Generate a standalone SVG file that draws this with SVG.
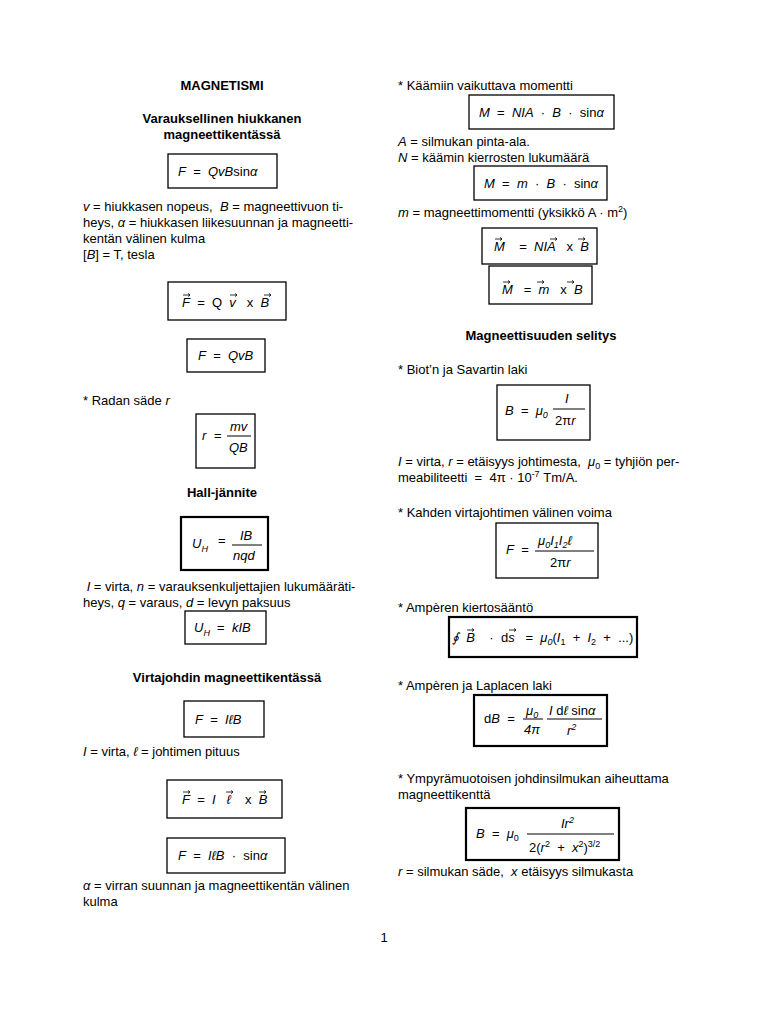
<svg xmlns="http://www.w3.org/2000/svg" width="768" height="1024" viewBox="0 0 768 1024">
<style>
text{font-family:"Liberation Sans",Arial,sans-serif;font-size:13px;fill:#000;white-space:pre}
.b{font-weight:bold}
.i{font-style:italic}
.s{font-size:9px}
.box{fill:#fff;stroke:#000;stroke-width:1.3}
.tb{fill:#fff;stroke:#000;stroke-width:2.2}
.ln{stroke:#000;stroke-width:1}
.v{fill:none;stroke:#000;stroke-width:0.8}
</style>
<defs>
<path id="vec" class="v" d="M0,0 H7 M5,-1.6 L7,0 L5,1.6"/>
</defs>
<rect width="768" height="1024" fill="#fff"/>
<!-- left column -->
<text x="222" y="90" class="b" text-anchor="middle">MAGNETISMI</text>
<text x="222" y="123" class="b" text-anchor="middle">Varauksellinen hiukkanen</text>
<text x="222" y="139" class="b" text-anchor="middle">magneettikentässä</text>
<rect class="box" x="168" y="154" width="109" height="34"/>
<text x="178" y="176"><tspan class="i">F</tspan>  =  <tspan class="i">QvB</tspan>sin<tspan class="i">α</tspan></text>
<text x="83" y="211"><tspan class="i">v</tspan> = hiukkasen nopeus,  <tspan class="i">B</tspan> = magneettivuon ti-</text>
<text x="83" y="227">heys, <tspan class="i">α</tspan> = hiukkasen liikesuunnan ja magneetti-</text>
<text x="83" y="243">kentän välinen kulma</text>
<text x="83" y="259">[<tspan class="i">B</tspan>] = T, tesla</text>
<rect class="box" x="168" y="282" width="118" height="38"/>
<text x="182" y="307"><tspan class="i">F</tspan>  =  Q  <tspan class="i">v</tspan>   x  <tspan class="i">B</tspan></text>
<use href="#vec" x="183" y="295"/><use href="#vec" x="230" y="295"/><use href="#vec" x="264" y="295"/>
<rect class="box" x="187" y="339" width="78" height="33"/>
<text x="198" y="360"><tspan class="i">F</tspan>  =  <tspan class="i">QvB</tspan></text>
<text x="83" y="405">* Radan säde <tspan class="i">r</tspan></text>
<rect class="box" x="196" y="414" width="59" height="54"/>
<text x="202" y="440" class="i">r</text><text x="214" y="440">=</text>
<text x="230" y="431" class="i">mv</text>
<line class="ln" x1="227" y1="436" x2="251" y2="436"/>
<text x="229" y="452" class="i">QB</text>
<text x="222" y="497" class="b" text-anchor="middle">Hall-jännite</text>
<rect class="tb" x="181" y="517" width="87" height="53"/>
<text x="192" y="548" class="i">U<tspan class="s" dy="4">H</tspan></text>
<text x="218" y="545">=</text>
<text x="240" y="540" class="i">IB</text>
<line class="ln" x1="232" y1="545" x2="262" y2="545"/>
<text x="233" y="560" class="i">nqd</text>
<text x="83" y="591"> <tspan class="i">I</tspan> = virta, <tspan class="i">n</tspan> = varauksenkuljettajien lukumääräti-</text>
<text x="83" y="607">heys, <tspan class="i">q</tspan> = varaus, <tspan class="i">d</tspan> = levyn paksuus</text>
<rect class="box" x="185" y="611" width="81" height="33"/>
<text x="194" y="632" class="i">U<tspan class="s" dy="4">H</tspan><tspan dy="-4" font-style="normal">  =  </tspan>kIB</text>
<text x="227" y="682" class="b" text-anchor="middle">Virtajohdin magneettikentässä</text>
<rect class="box" x="184" y="701" width="80" height="36"/>
<text x="195" y="724"><tspan class="i">F</tspan>  =  <tspan class="i">IℓB</tspan></text>
<text x="83" y="756"><tspan class="i">I</tspan> = virta, <tspan class="i">ℓ</tspan> = johtimen pituus</text>
<rect class="box" x="167" y="780" width="115" height="38"/>
<text x="182" y="804"><tspan class="i">F</tspan>  =  <tspan class="i">I</tspan>   <tspan class="i">ℓ</tspan>    x  <tspan class="i">B</tspan></text>
<use href="#vec" x="183" y="792"/><use href="#vec" x="226" y="792"/><use href="#vec" x="259" y="792"/>
<rect class="box" x="167" y="838" width="118" height="35"/>
<text x="178" y="860"><tspan class="i">F</tspan>  =  <tspan class="i">IℓB</tspan>  ·  sin<tspan class="i">α</tspan></text>
<text x="83" y="890"><tspan class="i">α</tspan> = virran suunnan ja magneettikentän välinen</text>
<text x="83" y="906">kulma</text>
<text x="384" y="942" text-anchor="middle">1</text>
<!-- right column -->
<text x="398" y="90">* Käämiin vaikuttava momentti</text>
<rect class="box" x="469" y="95" width="145" height="34"/>
<text x="479" y="117"><tspan class="i">M</tspan>  =  <tspan class="i">NIA</tspan>  ·  <tspan class="i">B</tspan>  ·  sin<tspan class="i">α</tspan></text>
<text x="398" y="146"><tspan class="i">A</tspan> = silmukan pinta-ala.</text>
<text x="398" y="162"><tspan class="i">N</tspan> = käämin kierrosten lukumäärä</text>
<rect class="box" x="474" y="166" width="133" height="34"/>
<text x="484" y="188"><tspan class="i">M</tspan>  =  <tspan class="i">m</tspan>  ·  <tspan class="i">B</tspan>  ·  sin<tspan class="i">α</tspan></text>
<text x="398" y="217"><tspan class="i">m</tspan> = magneettimomentti (yksikkö A · m<tspan class="s" dy="-5">2</tspan><tspan dy="5">)</tspan></text>
<rect class="box" x="482" y="228" width="115" height="36"/>
<text x="494" y="251" font-size="12"><tspan class="i">M</tspan>    =  <tspan class="i">NIA</tspan>   x  <tspan class="i">B</tspan></text>
<use href="#vec" x="495" y="239"/><use href="#vec" x="550" y="239"/><use href="#vec" x="578" y="239"/>
<rect class="box" x="489" y="266" width="103" height="38"/>
<text x="502" y="294" font-size="12"><tspan class="i">M</tspan>   =  <tspan class="i">m</tspan>   x  <tspan class="i">B</tspan></text>
<use href="#vec" x="503" y="282"/><use href="#vec" x="537" y="282"/><use href="#vec" x="567" y="282"/>
<text x="541" y="340" class="b" text-anchor="middle">Magneettisuuden selitys</text>
<text x="398" y="374">* Biot’n ja Savartin laki</text>
<rect class="box" x="497" y="385" width="93" height="55"/>
<text x="505" y="415"><tspan class="i">B</tspan>  =  <tspan class="i">μ<tspan class="s" dy="3">0</tspan></tspan></text>
<text x="565" y="403" class="i">I</text>
<line class="ln" x1="553" y1="409" x2="585" y2="409"/>
<text x="555" y="425">2π<tspan class="i">r</tspan></text>
<text x="398" y="466"><tspan class="i">I</tspan> = virta, <tspan class="i">r</tspan> = etäisyys johtimesta,  <tspan class="i">μ</tspan><tspan class="s" dy="3">0</tspan><tspan dy="-3"> = tyhjiön per-</tspan></text>
<text x="398" y="482">meabiliteetti  =  4π · 10<tspan class="s" dy="-5">-7</tspan><tspan dy="5"> Tm/A.</tspan></text>
<text x="398" y="517">* Kahden virtajohtimen välinen voima</text>
<rect class="box" x="496" y="523" width="102" height="55"/>
<text x="506" y="554"><tspan class="i">F</tspan>  =</text>
<text x="538" y="545" class="i">μ<tspan class="s" dy="3">0</tspan><tspan dy="-3">I</tspan><tspan class="s" dy="3">1</tspan><tspan dy="-3">I</tspan><tspan class="s" dy="3">2</tspan><tspan dy="-3">ℓ</tspan></text>
<line class="ln" x1="535" y1="551" x2="594" y2="551"/>
<text x="550" y="567">2π<tspan class="i">r</tspan></text>
<text x="398" y="612">* Ampèren kiertosääntö</text>
<rect class="tb" x="449" y="617" width="188" height="40"/>
<text x="452" y="642"><tspan class="i">∮</tspan>  <tspan class="i">B</tspan>    ·  d<tspan class="i">s</tspan>   =  <tspan class="i">μ<tspan class="s" dy="3">0</tspan></tspan><tspan dy="-3">(<tspan class="i">I</tspan></tspan><tspan class="s" dy="3">1</tspan><tspan dy="-3">  +  <tspan class="i">I</tspan></tspan><tspan class="s" dy="3">2</tspan><tspan dy="-3">  +  ...)</tspan></text>
<use href="#vec" x="467" y="630"/><use href="#vec" x="509" y="630"/>
<text x="398" y="690">* Ampèren ja Laplacen laki</text>
<rect class="tb" x="474" y="695" width="133" height="51"/>
<text x="484" y="723" font-size="12">d<tspan class="i">B</tspan>  =</text>
<text x="526" y="715" class="i" font-size="11">μ<tspan class="s" dy="3">0</tspan></text>
<line class="ln" x1="523" y1="719" x2="543" y2="719"/>
<text x="524" y="734" class="i" font-size="11">4π</text>
<text x="549" y="715" font-size="12"><tspan class="i">I</tspan> d<tspan class="i">ℓ</tspan> sin<tspan class="i">α</tspan></text>
<line class="ln" x1="547" y1="719" x2="602" y2="719"/>
<text x="567" y="735" class="i" font-size="12">r<tspan class="s" dy="-5">2</tspan></text>
<text x="398" y="783">* Ympyrämuotoisen johdinsilmukan aiheuttama</text>
<text x="398" y="799">magneettikenttä</text>
<rect class="tb" x="466" y="808" width="153" height="52"/>
<text x="476" y="838"><tspan class="i">B</tspan>  =  <tspan class="i">μ</tspan><tspan class="s" dy="3">0</tspan></text>
<text x="561" y="828" class="i">Ir<tspan class="s" dy="-5">2</tspan></text>
<line class="ln" x1="527" y1="834" x2="614" y2="834"/>
<text x="529" y="852">2(<tspan class="i">r</tspan><tspan class="s" dy="-5">2</tspan><tspan dy="5">  +  </tspan><tspan class="i">x</tspan><tspan class="s" dy="-5">2</tspan><tspan dy="5">)</tspan><tspan class="s" dy="-5">3/2</tspan></text>
<text x="398" y="876"><tspan class="i">r</tspan> = silmukan säde,  <tspan class="i">x</tspan> etäisyys silmukasta</text>
</svg>
